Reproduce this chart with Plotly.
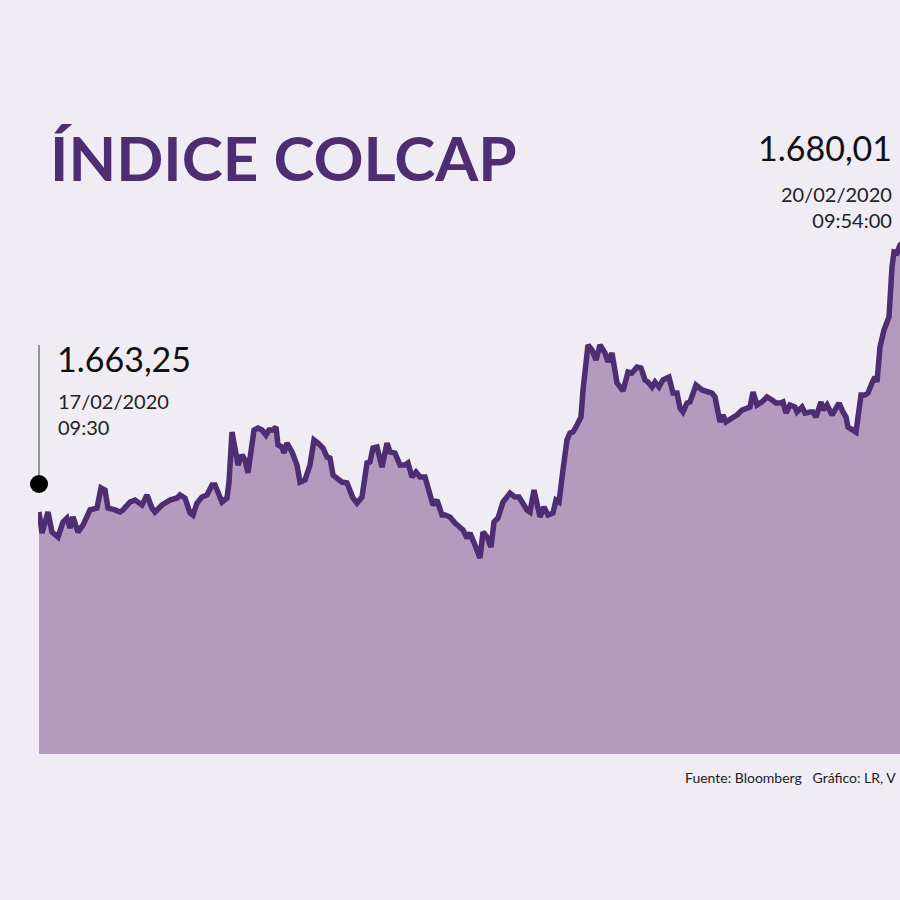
import plotly.graph_objects as go

# Data (sample position, index value)
t = [1, 4, 10, 14, 20, 25, 29, 32, 35, 40, 45, 52, 59, 63, 67, 70, 77, 82, 85, 92, 97, 104, 109, 114, 117, 124, 132, 139,
     142, 147, 152, 155, 159, 164, 169, 174, 177, 180, 184, 189, 191, 194, 197, 200, 204, 207, 210, 214, 216, 220, 224, 228,
     231, 235, 238, 240, 244, 246, 249, 254, 259, 262, 267, 272, 276, 280, 285, 289,
     292, 295, 299, 304, 309, 312, 315, 319, 324, 329, 332, 335, 339, 344, 349, 352, 357, 362, 367, 370, 374, 378, 382, 387,
     392, 395, 399, 404, 407, 412, 417, 422, 425, 429, 432, 437,
     442, 445, 449, 453, 456, 460, 465, 472, 477, 481, 485, 489, 492, 496, 502, 506, 510, 515, 518, 521, 525, 529, 532, 535,
     539, 543, 545, 550, 554, 558, 562, 567, 570, 574, 579, 582, 585, 590, 594, 599, 603, 607, 610, 614, 617, 621, 625, 631,
     635, 639, 642, 645, 649, 652, 658, 664, 669, 674, 677, 682, 685, 688, 694, 699, 704, 709, 712, 715, 719, 724, 729, 734,
     738, 742, 745, 748, 752, 757, 759, 764, 767, 772, 775, 778, 783, 785, 789, 794, 797, 801, 805, 808, 810, 814, 818, 820,
     823, 827, 830, 834, 837, 839, 842, 846, 849, 851, 854, 856, 859, 862, 867]
colcap = [1663.25, 1661.93, 1663.25, 1661.99, 1661.68, 1662.62, 1662.87, 1662.25, 1662.94, 1661.99, 1662.43, 1663.38,
          1663.50, 1664.76, 1664.63, 1663.50, 1663.38, 1663.25, 1663.38, 1663.88, 1664.00, 1663.69, 1664.32, 1663.50,
          1663.25, 1663.69, 1664.00, 1664.13,
          1664.32, 1664.13, 1663.19, 1663.06, 1663.81, 1664.19, 1664.32, 1664.95, 1664.95, 1664.44, 1663.88, 1664.13,
          1665.13, 1668.27, 1667.27, 1666.20, 1666.83, 1666.51, 1665.70, 1667.64, 1668.40, 1668.52, 1668.40, 1668.08,
          1668.40, 1668.40, 1668.59, 1667.46, 1667.33, 1666.95, 1667.58, 1667.02, 1666.20, 1665.13, 1665.26, 1666.20,
          1667.77, 1667.58, 1667.27, 1666.70,
          1666.64, 1665.57, 1665.38, 1665.13, 1665.07, 1664.63, 1664.13, 1663.81, 1664.19, 1666.33, 1666.39, 1667.27,
          1667.33, 1666.07, 1667.58, 1667.02, 1666.95, 1666.20, 1666.20, 1666.33, 1665.45, 1665.76, 1665.45, 1665.45,
          1664.19, 1663.69, 1664.00, 1663.06, 1663.06, 1662.94, 1662.56, 1662.25, 1662.12, 1661.62, 1661.93, 1661.18,
          1660.36, 1661.99, 1661.68, 1661.05, 1662.62, 1662.87, 1663.88, 1664.44, 1664.19, 1664.19, 1663.69, 1663.38,
          1663.25, 1664.63, 1662.94, 1663.56, 1663.06, 1663.19, 1664.00, 1663.88, 1665.89, 1667.77, 1668.21, 1668.27,
          1668.71, 1669.21, 1670.91, 1673.73, 1673.42, 1672.79, 1673.73, 1673.23, 1672.67, 1673.23, 1671.35, 1671.10,
          1670.85, 1672.04, 1671.98, 1672.35, 1672.29, 1671.54, 1671.41, 1671.10, 1671.41, 1671.10, 1671.54, 1671.72,
          1670.72, 1670.72, 1669.78, 1669.53, 1670.09, 1670.16, 1671.22, 1670.91, 1670.78, 1670.72, 1670.47, 1668.90,
          1669.34, 1668.90, 1669.15, 1669.34, 1669.65, 1669.78, 1669.84, 1670.78, 1669.97, 1670.16, 1670.47, 1670.28,
          1670.09, 1670.09, 1670.16, 1669.46, 1669.97, 1669.84, 1669.53, 1669.84, 1669.46, 1669.53, 1669.53, 1669.21,
          1670.16, 1669.65, 1669.97, 1669.34, 1669.65, 1670.09, 1669.53, 1669.21, 1668.59, 1668.40, 1668.27, 1669.21,
          1670.59, 1670.59, 1670.72, 1671.35, 1671.72, 1671.41, 1673.61, 1674.67, 1675.30, 1675.49, 1678.63, 1679.57,
          1679.51, 1680.01, 1680.20]

title_text = "ÍNDICE COLCAP"
start_value = "1.663,25"
start_date = "17/02/2020<br>09:30"
end_value = "1.680,01"
end_date = "20/02/2020<br>09:54:00"
source = "Fuente: Bloomberg&nbsp;&nbsp;&nbsp;Gráfico: LR, V"

BG = "#F0ECF3"
FILL = "#B49ABF"
LINE = "#4E2D72"

fig = go.Figure()
fig.add_trace(go.Scatter(
    x=t, y=colcap, mode="lines", fill="tozeroy", fillcolor=FILL,
    line=dict(color=LINE, width=5.5, shape="linear"), hoverinfo="skip", showlegend=False))

W = 862.0
H = 754.0
def px(x):
    return (x - 38) / W
def py(y):
    return (754 - y) / H

fig.add_shape(type="line", xref="paper", yref="paper", x0=px(39), x1=px(39), y0=py(345), y1=py(484),
              line=dict(color="#777777", width=1.5))
fig.add_shape(type="circle", xref="paper", yref="paper", x0=px(30), x1=px(48), y0=py(475), y1=py(493),
              fillcolor="#000000", line=dict(color="#000000", width=0))

FONT = "Lato"
anns = [
    dict(text="<b>" + title_text + "</b>", x=px(48), y=py(157), xanchor="left", yanchor="middle",
         font=dict(family=FONT, size=62, color=LINE)),
    dict(text=start_value, x=px(55), y=py(358), xanchor="left", yanchor="middle",
         font=dict(family=FONT, size=34, color="#111111")),
    dict(text=start_date, x=px(56), y=py(414), xanchor="left", yanchor="middle",
         font=dict(family=FONT, size=20, color="#222222"), align="left"),
    dict(text=end_value, x=px(894), y=py(147), xanchor="right", yanchor="middle",
         font=dict(family=FONT, size=34, color="#111111")),
    dict(text=end_date, x=px(894), y=py(207), xanchor="right", yanchor="middle",
         font=dict(family=FONT, size=20, color="#222222"), align="right"),
    dict(text=source, x=px(898), y=py(777), xanchor="right", yanchor="middle",
         font=dict(family=FONT, size=14, color="#222222")),
]
for a in anns:
    a.update(xref="paper", yref="paper", showarrow=False)
    fig.add_annotation(**a)

fig.update_layout(
    width=900, height=900, margin=dict(l=38, r=0, t=0, b=146),
    paper_bgcolor=BG, plot_bgcolor=BG,
    xaxis=dict(range=[0, 862], visible=False, fixedrange=True),
    yaxis=dict(range=[1648.06, 1695.39], visible=False, fixedrange=True),
)
fig.write_html("out.html")
